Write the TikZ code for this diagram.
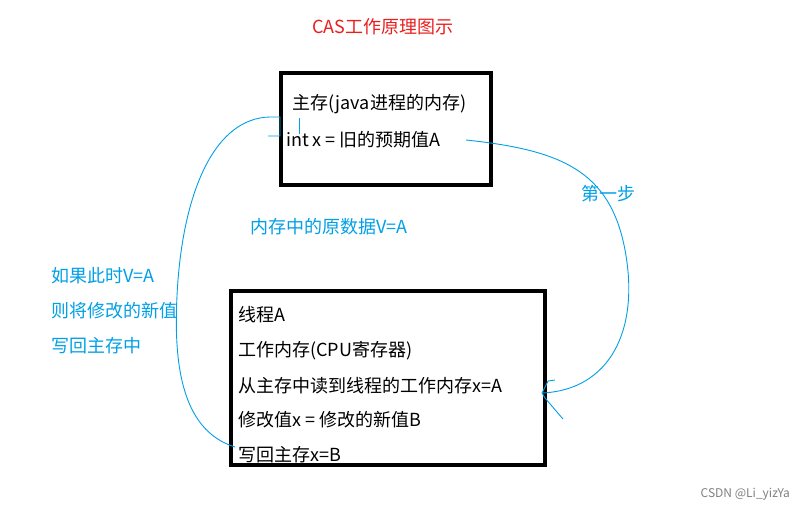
\documentclass[tikz,border=0pt]{standalone}
\usepackage{fontspec}
\setmainfont{Noto Sans CJK SC}
\definecolor{lblue}{RGB}{0,160,230}
\definecolor{tred}{RGB}{235,30,30}
\begin{document}
\begin{tikzpicture}[x=1pt,y=-1pt,
  box/.style={draw=black,line width=4.5pt},
  txt/.style={anchor=west,inner sep=0pt,font=\fontsize{18}{20}\selectfont},
  btxt/.style={txt,text=lblue},
  curve/.style={draw=lblue,line width=0.9pt}]
\useasboundingbox[fill=white] (0,0) rectangle (805,510);
\node[inner sep=0pt,text=tred,font=\fontsize{18}{20}\selectfont] (title) at (383,27) {CAS工作原理图示};
\draw[box] (281,73) rectangle (491,185);
\draw[box] (231,291) rectangle (545,465);
\node[txt] (m1) at (292,104) {主存(java进程的内存)};
\node[txt] (m2) at (286,140) {int x = 旧的预期值A};
\node[txt] (t1) at (238,315) {线程A};
\node[txt] (t2) at (238,351) {工作内存(CPU寄存器)};
\node[txt] (t3) at (238,386) {从主存中读到线程的工作内存x=A};
\node[txt] (t4) at (238,420) {修改值x = 修改的新值B};
\node[txt] (t5) at (238,455) {写回主存x=B};
\node[btxt] (s1) at (581,194) {第一步};
\node[btxt] (v) at (250,227) {内存中的原数据V=A};
\node[btxt] (l1) at (51,276) {如果此时V=A};
\node[btxt] (l2) at (51,311) {则将修改的新值};
\node[btxt] (l3) at (51,346) {写回主存中};
\coordinate (ra) at (466,140);
\coordinate (rb) at (542,393);
\draw[curve] (ra) .. controls (560,150) and (610,170) .. (625,250)
  .. controls (640,330) and (610,390) .. (rb);
\draw[curve] (rb) -- (548,381) -- (555,380);
\draw[curve] (rb) -- (545,398) -- (563,419);
\coordinate (la) at (235,447);
\draw[curve] (la) .. controls (180,430) and (172,360) .. (178,280)
  .. controls (185,190) and (215,118) .. (270,117) -- (280,117) -- (280,136) -- (268,136);
\draw[curve] (299,118) -- (299,134);
\node[inner sep=0pt,text=gray,font=\fontsize{12}{14}\selectfont,anchor=east] (wm) at (790,494) {CSDN @Li\_yizYa};
\end{tikzpicture}
\end{document}
